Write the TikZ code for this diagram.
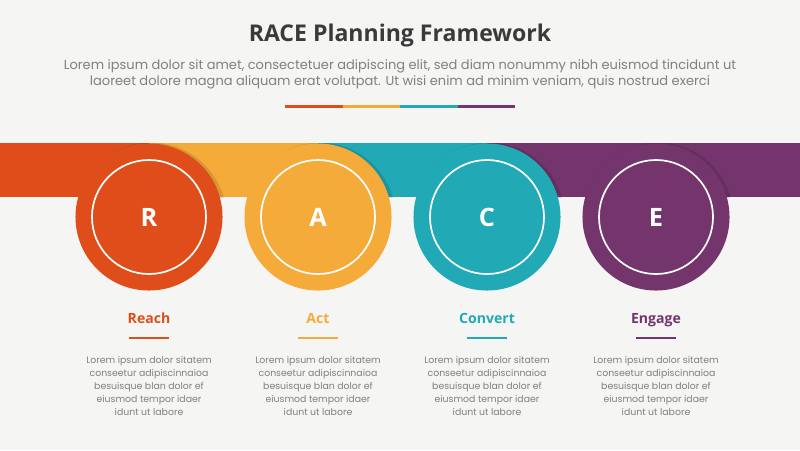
\documentclass[tikz,border=0pt]{standalone}
\usepackage{fontspec}
\setmainfont{Poppins}
\newfontfamily\headfont{Open Sans}
\usetikzlibrary{positioning}

\definecolor{reachc}{HTML}{DF4E1A}
\definecolor{actc}{HTML}{F5AB39}
\definecolor{convc}{HTML}{21A9B5}
\definecolor{engc}{HTML}{74356C}
\definecolor{bgc}{HTML}{F5F5F4}
\definecolor{txtc}{HTML}{808080}
\definecolor{titlec}{HTML}{3A3A3A}

\begin{document}
\begin{tikzpicture}[x=0.025cm, y=-0.025cm,
	disc/.style={circle, minimum size=3.675cm, inner sep=0pt, text=white, font=\headfont\bfseries\fontsize{18}{20}\selectfont},
	stagename/.style={anchor=base, font=\headfont\bfseries\fontsize{10}{12}\selectfont},
	stagetext/.style={align=center, text=txtc, font=\fontsize{6.65}{9.2}\selectfont}]
	\fill[bgc] (0,0) rectangle (800,450);
	\useasboundingbox (0,0) rectangle (800,450);
	
	% heading
	\node[text=titlec, font=\headfont\bfseries\fontsize{16.4}{19}\selectfont] (title) at (400,36) {RACE Planning Framework};
	\node[align=center, text=txtc, font=\fontsize{9.25}{11.6}\selectfont] (intro) at (400,74)
		{Lorem ipsum dolor sit amet, consectetuer adipiscing elit, sed diam nonummy nibh euismod tincidunt ut\\
		 laoreet dolore magna aliquam erat volutpat. Ut wisi enim ad minim veniam, quis nostrud exerci};
	\foreach \col [count=\i] in {reachc, actc, convc, engc}
		\draw[\col, line width=0.075cm] ({285+57.5*(\i-1)},106) -- ({285+57.5*\i},106);
	
	% bands and circles, back to front
	\foreach \name/\col/\x/\bl/\br/\letter in {engage/engc/656/487/800/E, convert/convc/487/318/487/C, act/actc/318/149/318/A, reach/reachc/149/0/149/R} {
		\fill[\col] (\bl,143) rectangle (\br,197);
		\begin{scope}
			\clip (0,143) rectangle (800,197);
			\fill[black, opacity=0.12] (\x+2,218) circle (75.5);
		\end{scope}
		\node[disc, fill=\col] (\name) at (\x,217) {\letter};
		\draw[white, line width=1.2pt] (\name.center) circle[radius=1.425cm];
	}
	
	% names and texts
	\foreach \name/\col/\word in {reach/reachc/Reach, act/actc/Act, convert/convc/Convert, engage/engc/Engage} {
		\node[stagename, text=\col] (\name-lbl) at (\name |- 0,323) {\word};
		\draw[\col, line width=0.065cm] ([xshift=-0.5cm]\name |- 0,338) -- ([xshift=0.5cm]\name |- 0,338);
		\node[stagetext] (\name-txt) at (\name |- 0,386) {Lorem ipsum dolor sitatem\\conseetur adipiscinnaioa\\besuisque blan dolor ef\\eiusmod tempor idaer\\idunt ut labore};
	}
\end{tikzpicture}
\end{document}
